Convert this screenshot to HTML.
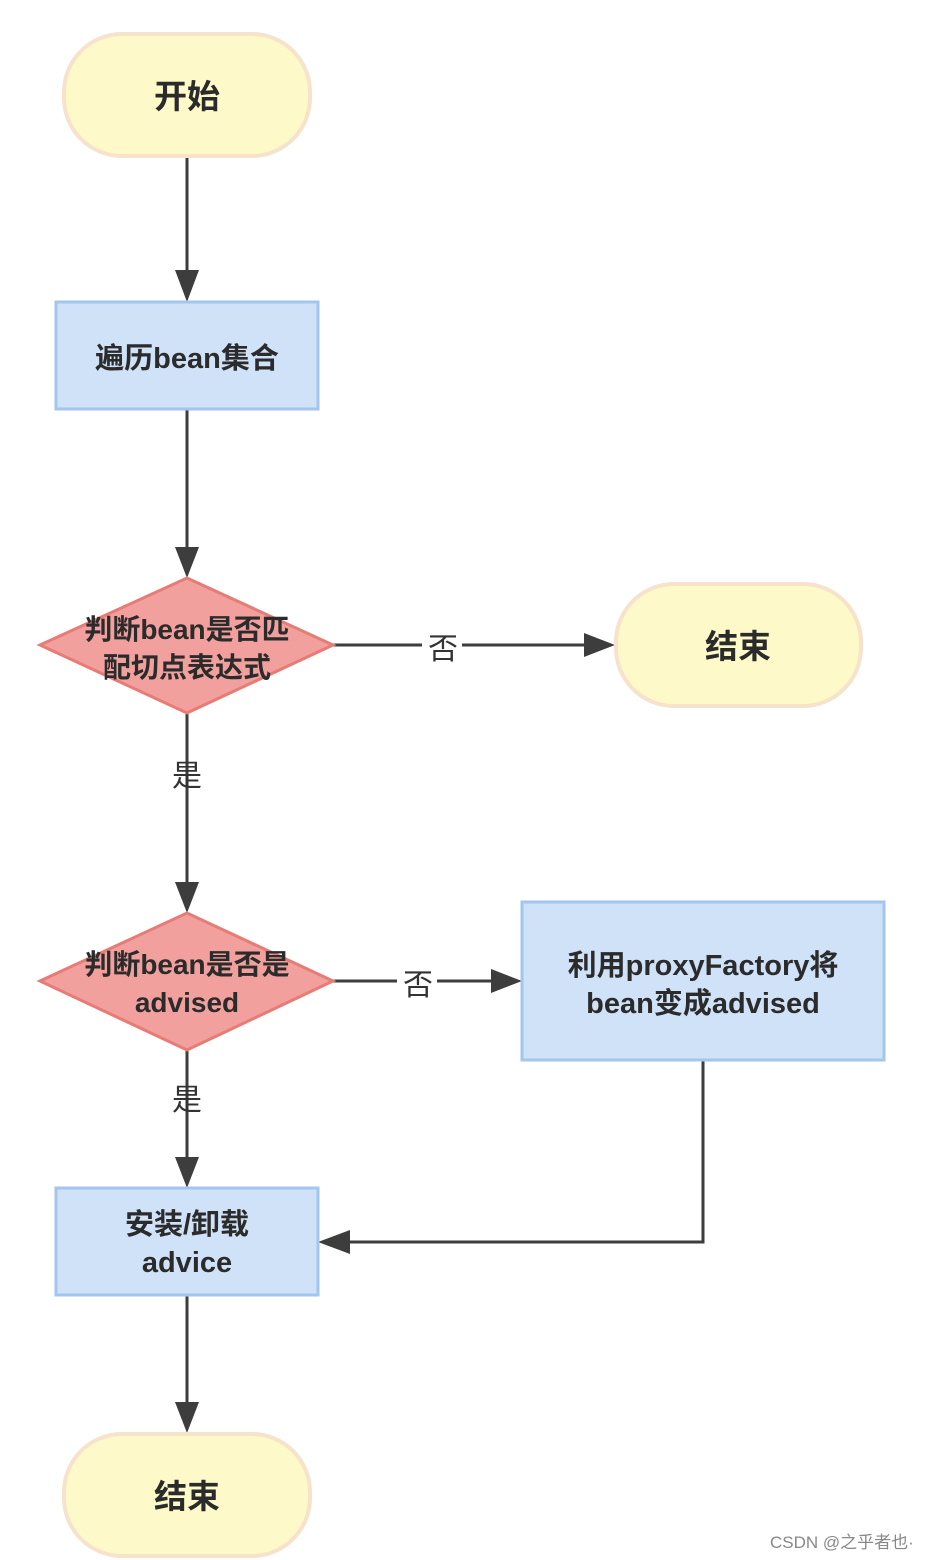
<!DOCTYPE html>
<html><head><meta charset="utf-8"><style>
html,body{margin:0;padding:0;background:#fff;}
svg{display:block;}
text{font-family:"Liberation Sans","Noto Sans CJK SC",sans-serif;}
.b{font-weight:bold;fill:#2b2b2b;}
</style></head><body>
<svg width="936" height="1560" viewBox="0 0 936 1560" xmlns="http://www.w3.org/2000/svg">
<defs>
<marker id="a" markerWidth="10" markerHeight="10" refX="9" refY="5" orient="auto" markerUnits="userSpaceOnUse" viewBox="0 0 10 10">
</marker>
</defs>
<g stroke="#3d3d3d" stroke-width="3" fill="none">
<line x1="187" y1="158" x2="187" y2="275"/>
<line x1="187" y1="410" x2="187" y2="550"/>
<line x1="187" y1="714" x2="187" y2="885"/>
<line x1="187" y1="1051" x2="187" y2="1160"/>
<line x1="187" y1="1296" x2="187" y2="1405"/>
<line x1="333" y1="645" x2="588" y2="645"/>
<line x1="333" y1="981" x2="495" y2="981"/>
<polyline points="703,1061 703,1242 345,1242"/>
</g>
<g fill="#3d3d3d">
<polygon points="175,270 199,270 187,302"/>
<polygon points="175,547 199,547 187,578"/>
<polygon points="175,882 199,882 187,913"/>
<polygon points="175,1157 199,1157 187,1188"/>
<polygon points="175,1402 199,1402 187,1433"/>
<polygon points="584,633 584,657 615,645"/>
<polygon points="491,969 491,993 522,981"/>
<polygon points="350,1230 350,1254 318,1242"/>
</g>
<rect x="422" y="632" width="40" height="28" fill="#fff"/>
<text x="443" y="659" font-size="30" text-anchor="middle" fill="#333">否</text>
<rect x="397" y="968" width="40" height="28" fill="#fff"/>
<text x="418" y="995" font-size="30" text-anchor="middle" fill="#333">否</text>
<text x="187" y="786" font-size="30" text-anchor="middle" fill="#333">是</text>
<text x="187" y="1110" font-size="30" text-anchor="middle" fill="#333">是</text>

<rect x="64" y="34" width="246" height="122" rx="58" fill="#fdf9c9" stroke="#f7e2cb" stroke-width="4"/>
<text x="187" y="108" font-size="33" text-anchor="middle" class="b">开始</text>
<rect x="56" y="302" width="262" height="107" fill="#cfe2f8" stroke="#a3c6ee" stroke-width="3"/>
<text x="187" y="368" font-size="29" text-anchor="middle" class="b">遍历bean集合</text>

<polygon points="40,645 187,578 333,645 187,713" fill="#f2a09d" stroke="#e77b76" stroke-width="3"/>
<text x="187" y="639" font-size="28" text-anchor="middle" class="b">判断bean是否匹</text>
<text x="187" y="677" font-size="28" text-anchor="middle" class="b">配切点表达式</text>

<rect x="616" y="584" width="245" height="122" rx="58" fill="#fdf9c9" stroke="#f7e2cb" stroke-width="4"/>
<text x="738" y="658" font-size="33" text-anchor="middle" class="b">结束</text>

<polygon points="40,981 187,913 333,981 187,1050" fill="#f2a09d" stroke="#e77b76" stroke-width="3"/>
<text x="187" y="974" font-size="28" text-anchor="middle" class="b">判断bean是否是</text>
<text x="187" y="1012" font-size="28" text-anchor="middle" class="b">advised</text>

<rect x="522" y="902" width="362" height="158" fill="#cfe2f8" stroke="#a3c6ee" stroke-width="3"/>
<text x="703" y="975" font-size="29" text-anchor="middle" class="b">利用proxyFactory将</text>
<text x="703" y="1013" font-size="29" text-anchor="middle" class="b">bean变成advised</text>

<rect x="56" y="1188" width="262" height="107" fill="#cfe2f8" stroke="#a3c6ee" stroke-width="3"/>
<text x="187" y="1234" font-size="29" text-anchor="middle" class="b">安装/卸载</text>
<text x="187" y="1272" font-size="29" text-anchor="middle" class="b">advice</text>

<rect x="64" y="1434" width="246" height="122" rx="58" fill="#fdf9c9" stroke="#f7e2cb" stroke-width="4"/>
<text x="187" y="1508" font-size="33" text-anchor="middle" class="b">结束</text>

<text x="770" y="1548" font-size="17" fill="#888">CSDN @之乎者也·</text>
</svg>
</body></html>
